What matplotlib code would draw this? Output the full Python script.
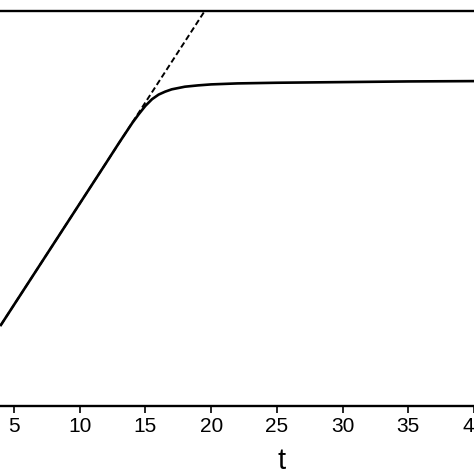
import matplotlib
matplotlib.use("Agg")
import matplotlib.pyplot as plt

t_vals = [4, 6, 8, 10, 12, 13, 14, 14.5, 15, 15.5, 16, 16.5, 17, 18, 19, 20, 22, 25, 30, 35, 40]
y_vals = [0.246, 0.369, 0.492, 0.615, 0.738, 0.800, 0.860, 0.887, 0.912, 0.932, 0.946, 0.955,
          0.962, 0.970, 0.974, 0.977, 0.980, 0.982, 0.984, 0.986, 0.987]

# linear (dashed) reference line
t_lin = [4, 19.51]
y_lin = [0.246, 1.2]

xticks = [5, 10, 15, 20, 25, 30, 35, 40]

plt.rcParams['font.family'] = ['Liberation Sans', 'DejaVu Sans']

fig = plt.figure(figsize=(4.74, 4.74), dpi=100)
ax = fig.add_axes([-0.109, 0.1435, 1.1367, 0.8333])

ax.plot(t_lin, y_lin, color="black", lw=1.4, ls=(0, (3, 1.6)))
ax.plot(t_vals, y_vals, color="black", lw=1.9)

ax.set_xlim(0, 41)
ax.set_ylim(0, 1.2)
ax.set_xticks(xticks)
ax.set_xticklabels([str(v) for v in xticks])
ax.set_yticks([])
ax.tick_params(axis="x", direction="out", length=5, width=1.2, pad=3, labelsize=15)
for s in ax.spines.values():
    s.set_linewidth(1.7)
ax.set_xlabel("t", fontsize=21)
ax.xaxis.set_label_coords(0.619, -0.105)

fig.savefig("out.png", dpi=100)
